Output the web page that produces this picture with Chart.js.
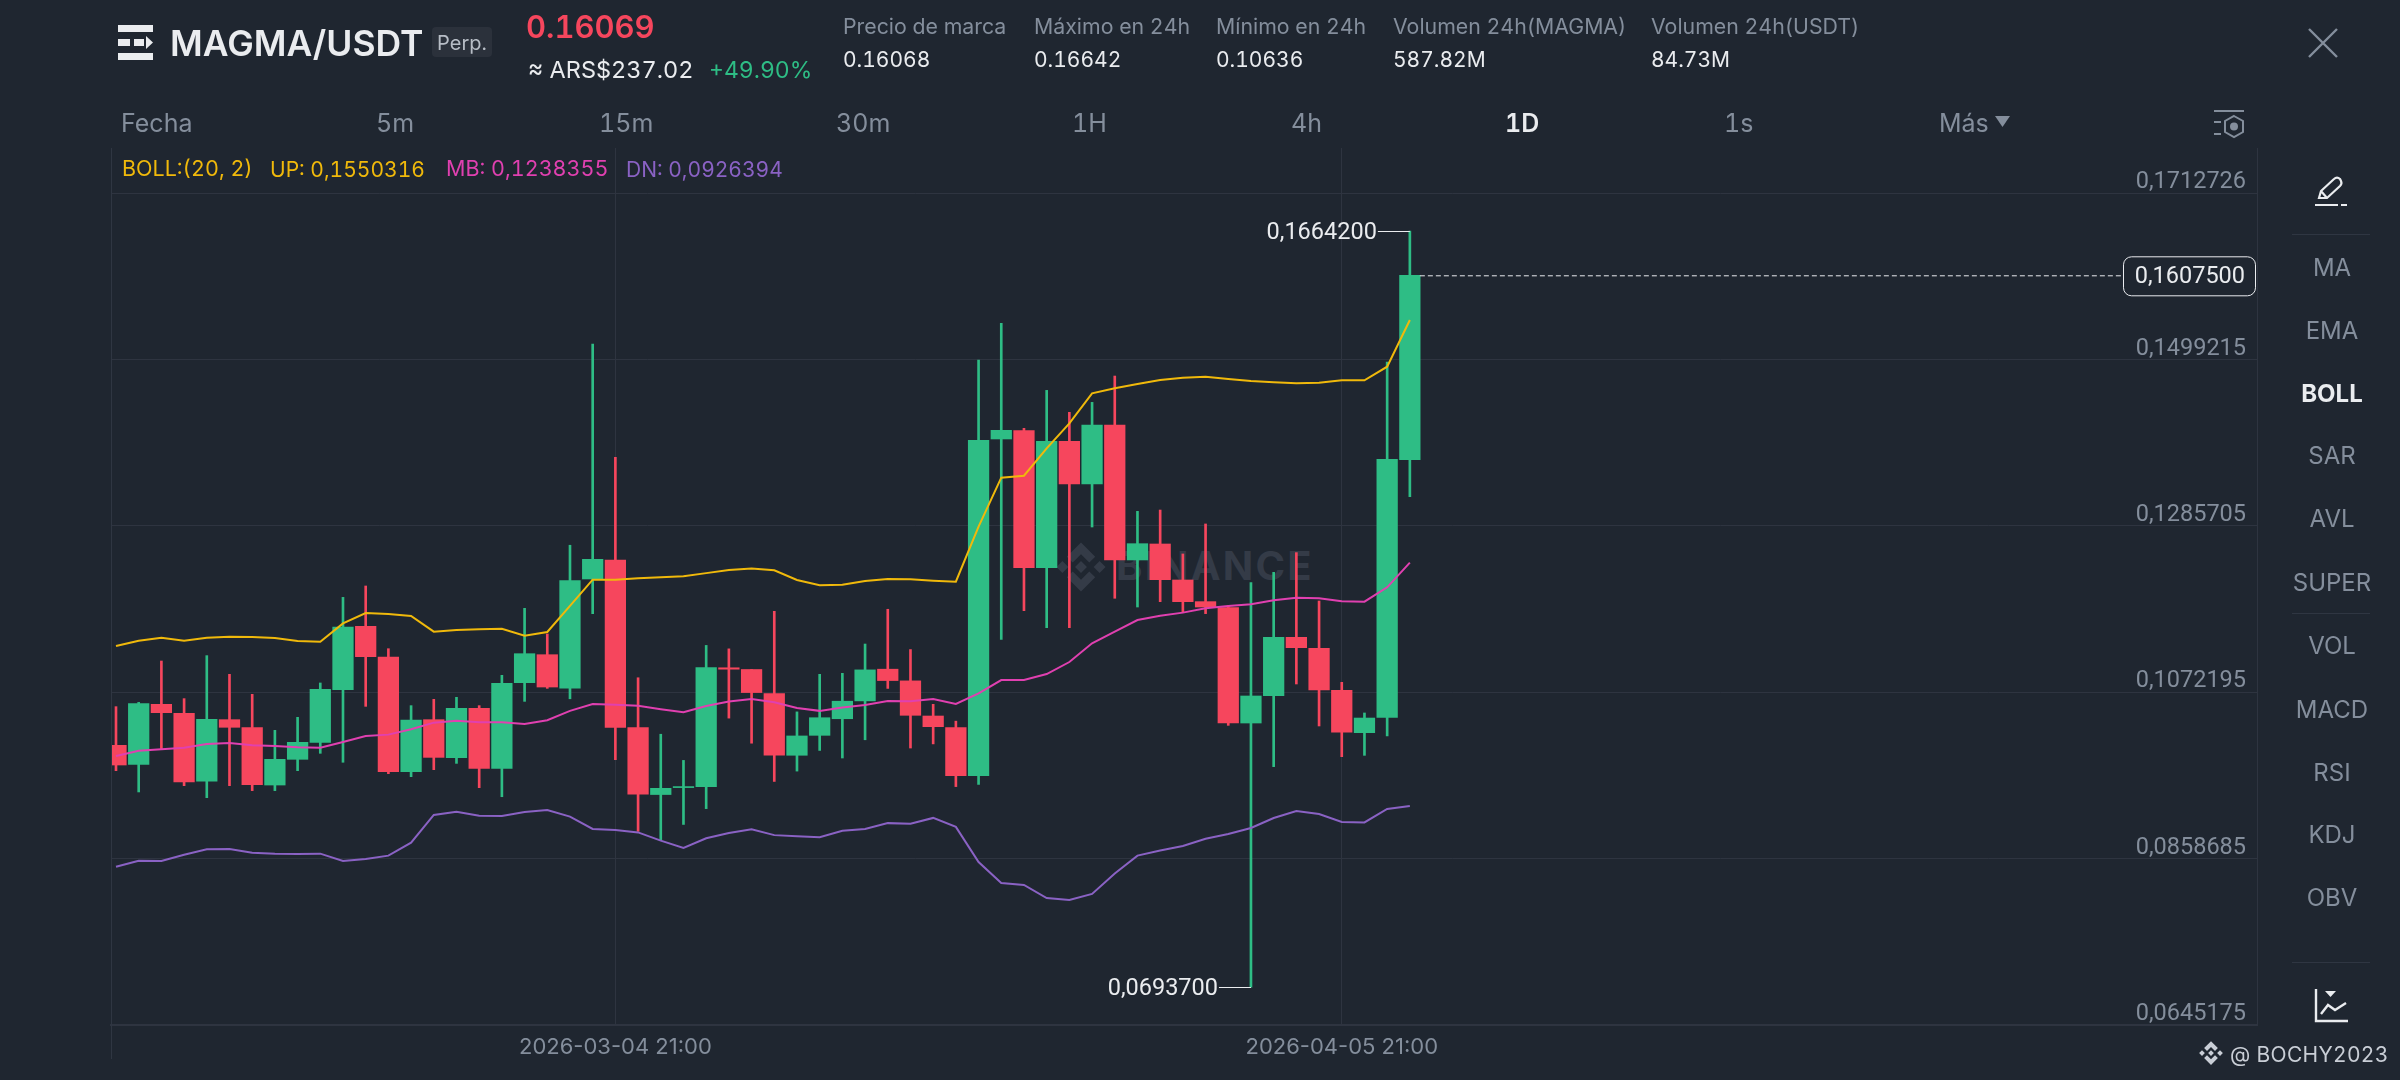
<!DOCTYPE html>
<html><head><meta charset="utf-8">
<script src="https://cdn.jsdelivr.net/npm/chart.js@4"></script>
<style>
html,body{margin:0;padding:0;background:#1f2630;width:2400px;height:1080px;overflow:hidden;font-family:Inter,Roboto,sans-serif}
#stage{position:relative;width:2400px;height:1080px}
.t{position:absolute;white-space:nowrap;line-height:1;transform:translateY(-50%);font-variant-numeric:tabular-nums}
.c{transform:translate(-50%,-50%)}
.g{color:#848e9c}.w{color:#eaecef}
.sep{position:absolute;left:2292px;width:78px;height:1px;background:#2f3642}
canvas{position:absolute;left:0;top:0}
svg{position:absolute}
</style></head><body><div id="stage">
<svg style="left:1050px;top:536px" width="62" height="62" viewBox="0 0 24 24" fill="#343b47"><path d="M12 2.5 L17.5 8 L15.2 10.3 L12 7.1 L8.8 10.3 L6.5 8Z M12 21.5 L6.5 16 L8.8 13.7 L12 16.9 L15.2 13.7 L17.5 16Z M12 9.7 L14.3 12 L12 14.3 L9.7 12Z M2.5 12 L4.8 9.7 L7.1 12 L4.8 14.3Z M21.5 12 L19.2 9.7 L16.9 12 L19.2 14.3Z"/></svg>
<div class="t" style="left:1116px;top:566px;font-size:40px;font-weight:700;color:#343b47;letter-spacing:2.2px">BINANCE</div>
<canvas id="c" width="2400" height="1080"></canvas>

<svg style="left:118px;top:25px" width="36" height="36" viewBox="0 0 36 36" fill="#eaecef"><rect x="0" y="0" width="35" height="7"/><rect x="0" y="28" width="35" height="7"/><rect x="0" y="14" width="12" height="7"/><rect x="16" y="14" width="10" height="7"/><path d="M28 11 L35 17.5 L28 24Z"/></svg>
<div class="t w" style="left:170px;top:44px;font-size:35.5px;font-weight:600;color:#eaecef">MAGMA/USDT</div>
<div style="position:absolute;left:432px;top:27px;width:60px;height:30px;background:#2b313b;border-radius:4px"></div>
<div class="t c" style="left:462px;top:43px;font-size:20px;color:#b7bdc6">Perp.</div>
<div class="t" style="left:526px;top:26px;font-size:31px;font-weight:600;color:#f6465d">0.16069</div>
<div class="t w" style="left:528px;top:70px;font-size:23.5px">≈ ARS$237.02</div>
<div class="t" style="left:709px;top:70px;font-size:23px;color:#2ebd85">+49.90%</div>

<div class="t g" style="left:843px;top:27px;font-size:21.3px">Precio de marca</div><div class="t w" style="left:843px;top:59px;font-size:21px">0.16068</div>
<div class="t g" style="left:1034px;top:27px;font-size:21.3px">Máximo en 24h</div><div class="t w" style="left:1034px;top:59px;font-size:21px">0.16642</div>
<div class="t g" style="left:1216px;top:27px;font-size:21.3px">Mínimo en 24h</div><div class="t w" style="left:1216px;top:59px;font-size:21px">0.10636</div>
<div class="t g" style="left:1393px;top:27px;font-size:21.3px">Volumen 24h(MAGMA)</div><div class="t w" style="left:1393px;top:59px;font-size:21px">587.82M</div>
<div class="t g" style="left:1651px;top:27px;font-size:21.3px">Volumen 24h(USDT)</div><div class="t w" style="left:1651px;top:59px;font-size:21px">84.73M</div>
<svg style="left:2308px;top:28px" width="30" height="30" fill="none" stroke="#848e9c" stroke-width="2.4"><path d="M1 1 L29 29 M29 1 L1 29"/></svg>

<div class="t g" style="left:121px;top:123px;font-size:25px">Fecha</div>
<div class="t g" style="left:376px;top:123px;font-size:25px">5m</div>
<div class="t g" style="left:599px;top:123px;font-size:25px">15m</div>
<div class="t g" style="left:836px;top:123px;font-size:25px">30m</div>
<div class="t g" style="left:1072px;top:123px;font-size:25px">1H</div>
<div class="t g" style="left:1291px;top:123px;font-size:25px">4h</div>
<div class="t" style="left:1505px;top:123px;font-size:25px;font-weight:600;color:#eaecef">1D</div>
<div class="t g" style="left:1724px;top:123px;font-size:25px">1s</div>
<div class="t g" style="left:1939px;top:123px;font-size:25px">Más</div>
<svg style="left:1995px;top:116px" width="16" height="12" fill="#848e9c"><path d="M0 0 H15 L7.5 11Z"/></svg>
<svg style="left:2213px;top:109px" width="32" height="30" fill="none" stroke="#848e9c" stroke-width="2"><path d="M1 2 H31 M1 13 H8 M1 25 H8"/><path d="M21 7 L30 12 V23 L21 28 L12 23 V12Z"/><circle cx="21" cy="17.5" r="3" fill="#848e9c"/></svg>

<div class="t" style="left:122px;top:169px;font-size:21.5px;color:#f0b90b">BOLL:(20, 2)</div>
<div class="t" style="left:270px;top:169px;font-size:21px;color:#f0b90b">UP: 0,1550316</div>
<div class="t" style="left:446px;top:169px;font-size:21.5px;color:#e040b0">MB: 0,1238355</div>
<div class="t" style="left:626px;top:169px;font-size:21px;color:#8a62c4">DN: 0,0926394</div>

<svg style="left:2314px;top:175px" width="34" height="34" fill="none" stroke="#eaecef" stroke-width="2.2"><path d="M5 23 L7 16 L20 4 C22 2 24 2 26 4 L27 6 C28 8 28 9 26 11 L13 23Z M7 16 L13 23"/><path d="M1 30 H24 M27 30 H33"/></svg>
<div class="sep" style="top:234px"></div>
<div class="t c g" style="left:2332px;top:268px;font-size:24px">MA</div>
<div class="t c g" style="left:2332px;top:331px;font-size:24px">EMA</div>
<div class="t c" style="left:2332px;top:394px;font-size:24px;font-weight:700;color:#eaecef">BOLL</div>
<div class="t c g" style="left:2332px;top:456px;font-size:24px">SAR</div>
<div class="t c g" style="left:2332px;top:519px;font-size:24px">AVL</div>
<div class="t c g" style="left:2332px;top:583px;font-size:24px">SUPER</div>
<div class="sep" style="top:613px"></div>
<div class="t c g" style="left:2332px;top:646px;font-size:24px">VOL</div>
<div class="t c g" style="left:2332px;top:710px;font-size:24px">MACD</div>
<div class="t c g" style="left:2332px;top:773px;font-size:24px">RSI</div>
<div class="t c g" style="left:2332px;top:835px;font-size:24px">KDJ</div>
<div class="t c g" style="left:2332px;top:898px;font-size:24px">OBV</div>
<div class="sep" style="top:962px"></div>
<svg style="left:2314px;top:988px" width="36" height="36" fill="none" stroke="#eaecef" stroke-width="2.4"><path d="M2 1 V33 H34"/><path d="M7 26 L14 17 L21 22 L32 15" /><path d="M11 3 H22 L16.5 9Z" fill="#eaecef" stroke="none"/></svg>
<svg style="left:2196px;top:1038px" width="30" height="30" viewBox="0 0 24 24" fill="#c9ced6"><path d="M12 2.5 L17.5 8 L15.2 10.3 L12 7.1 L8.8 10.3 L6.5 8Z M12 21.5 L6.5 16 L8.8 13.7 L12 16.9 L15.2 13.7 L17.5 16Z M12 9.7 L14.3 12 L12 14.3 L9.7 12Z M2.5 12 L4.8 9.7 L7.1 12 L4.8 14.3Z M21.5 12 L19.2 9.7 L16.9 12 L19.2 14.3Z"/></svg>
<div class="t" style="left:2230px;top:1054px;font-size:21px;color:#c9ced6;letter-spacing:.3px">@ BOCHY2023</div>
<div style="position:absolute;left:111px;top:148px;width:1px;height:911px;background:#2f3642"></div>
</div>
<script>
const highs=[.10538,.10593,.11124,.10641,.11193,.10953,.10696,.10234,.10401,.10842,.11941,.12087,.11282,.10551,.10632,.10658,.10551,.10940,.11800,.11471,.12610,.15192,.13737,.10909,.10184,.09848,.11324,.11280,.11015,.11762,.10471,.10953,.10966,.11342,.11788,.11271,.10568,.10352,.14988,.15458,.14111,.14598,.14316,.14444,.14782,.13045,.13062,.12498,.12883,.11834,.12130,.12262,.12515,.11894,.10850,.10457,.14962,.16642];
const lows=[.09716,.09443,.09990,.09524,.09370,.09524,.09460,.09460,.09716,.09939,.09824,.10542,.09678,.09639,.09729,.09810,.09498,.09382,.10606,.10773,.10639,.11731,.09857,.08937,.08826,.09026,.09229,.10391,.10069,.09578,.09711,.09976,.09879,.10113,.10772,.10007,.10060,.09512,.09541,.11402,.11770,.11552,.11552,.12844,.11929,.11817,.11886,.11749,.11732,.10298,.06937,.09768,.10829,.10290,.09896,.09913,.10162,.13233];
const opens=[.10042,.09798,.10568,.10453,.09580,.10371,.10268,.09532,.09862,.10080,.10756,.11569,.11175,.09704,.10371,.09883,.10517,.09746,.10846,.11205,.10776,.12177,.12420,.10268,.09410,.09499,.09512,.11037,.11015,.10705,.09914,.10170,.10383,.10612,.11019,.10869,.10418,.10268,.09652,.13974,.14081,.12322,.13944,.13396,.14153,.12421,.12626,.12164,.11886,.11809,.10328,.10679,.11428,.11287,.10748,.10204,.10401,.13708];
const closes=[.09789,.10577,.10461,.09571,.10375,.10273,.09537,.09862,.10080,.10760,.11560,.11180,.09704,.10367,.09887,.10517,.09746,.10837,.11218,.10790,.12155,.12429,.10272,.09415,.09490,.09512,.11041,.11019,.10719,.09914,.10162,.10396,.10608,.11010,.10873,.10427,.10281,.09653,.13957,.14085,.12322,.13944,.13396,.14153,.12421,.12630,.12168,.11886,.11817,.10328,.10675,.11428,.11295,.10752,.10209,.10392,.13713,.16075];
const bollUp=[.11317,.11385,.11424,.11385,.11424,.11436,.11432,.11419,.11381,.11372,.11607,.11740,.11727,.11702,.11501,.11522,.11531,.11539,.11449,.11496,.11832,.12168,.12168,.12186,.12199,.12213,.12252,.12292,.12310,.12288,.12164,.12098,.12102,.12151,.12177,.12173,.12155,.12142,.12848,.13477,.13503,.13854,.14175,.14560,.14624,.14680,.14731,.14761,.14774,.14744,.14718,.14701,.14688,.14697,.14727,.14727,.14902,.15501];
const bollMb=[.09905,.09973,.09990,.10012,.10059,.10072,.10042,.10033,.10016,.10012,.10085,.10161,.10179,.10247,.10333,.10358,.10337,.10337,.10316,.10363,.10484,.10573,.10564,.10551,.10506,.10467,.10546,.10604,.10635,.10595,.10520,.10484,.10528,.10559,.10612,.10608,.10635,.10573,.10709,.10880,.10880,.10957,.11111,.11351,.11501,.11650,.11706,.11745,.11800,.11830,.11852,.11903,.11937,.11929,.11890,.11886,.12070,.12386];
const bollDn=[.08484,.08561,.08557,.08638,.08707,.08711,.08664,.08651,.08647,.08651,.08557,.08583,.08626,.08792,.09148,.09190,.09139,.09135,.09186,.09212,.09127,.08968,.08955,.08924,.08818,.08725,.08849,.08915,.08964,.08889,.08875,.08862,.08946,.08968,.09043,.09035,.09110,.08995,.08544,.08274,.08249,.08082,.08056,.08134,.08397,.08626,.08692,.08749,.08842,.08903,.08980,.09109,.09199,.09160,.09057,.09052,.09225,.09263];
const yTicks=[.1712726,.1499215,.1285705,.1072195,.0858685,.0645175];
const xTickIndex=[22,54];
const xTickLabels=['2026-03-04 21:00','2026-04-05 21:00'];
const lastPrice=.16075, highPrice=.16642, highIndex=57, lowPrice=.06937, lowIndex=50;

const GREEN='#2ebd85',RED='#f6465d',GRID='#2e3440';
const fmt=v=>v.toFixed(7).replace('.',',');
const idx=opens.map((_,i)=>i);
const colors=idx.map(i=>closes[i]>=opens[i]?GREEN:RED);
const line=(arr,color)=>({type:'line',data:idx.map(i=>({x:i,y:arr[i]})),borderColor:color,borderWidth:2,pointRadius:0,tension:0,order:1});

const marks={id:'marks',afterDatasetsDraw(ch){
  const {ctx,scales:{x,y}}=ch;ctx.save();
  ctx.font='23.5px Roboto, sans-serif';ctx.textBaseline='middle';
  const tagL=2123,tagR=2256,py=y.getPixelForValue(lastPrice);
  ctx.strokeStyle='#eaecef';ctx.lineWidth=1;
  ctx.setLineDash([5,3]);ctx.beginPath();ctx.moveTo(x.getPixelForValue(highIndex)+10,py+.5);ctx.lineTo(tagL,py+.5);ctx.stroke();ctx.setLineDash([]);
  ctx.fillStyle='#1f2630';ctx.beginPath();ctx.roundRect(tagL+.5,py-18.5,tagR-tagL-1,39,8);ctx.fill();ctx.stroke();
  ctx.fillStyle='#eaecef';ctx.textAlign='right';ctx.fillText(fmt(lastPrice),2245,py+2);
  [[highIndex,highPrice],[lowIndex,lowPrice]].forEach(([i,v])=>{
    const px=x.getPixelForValue(i),vy=Math.round(y.getPixelForValue(v))+.5;
    ctx.beginPath();ctx.moveTo(px,vy);ctx.lineTo(px-32,vy);ctx.stroke();
    ctx.fillText(fmt(v),px-33,vy+2);
  });
  ctx.restore();
}};

new Chart(document.getElementById('c'),{
  data:{datasets:[
    {type:'bar',data:idx.map(i=>({x:i,y:[lows[i],highs[i]]})),backgroundColor:colors,barThickness:2,grouped:false,order:3},
    {type:'bar',data:idx.map(i=>({x:i,y:[opens[i],closes[i]]})),backgroundColor:colors,barThickness:20.6,grouped:false,order:2},
    line(bollUp,'#f0b90b'),line(bollMb,'#e040b0'),line(bollDn,'#8a62c4')
  ]},
  options:{
    responsive:false,animation:false,devicePixelRatio:1,
    layout:{padding:{left:111,top:148,right:143,bottom:0}},
    plugins:{legend:{display:false},tooltip:{enabled:false}},
    scales:{
      x:{type:'linear',offset:false,min:-0.22,max:94.32,
        afterBuildTicks(s){s.ticks=xTickIndex.map(v=>({value:v}))},
        afterFit(s){s.height=55},
        grid:{offset:false,color:GRID,lineWidth:1,drawTicks:false},
        border:{color:GRID,width:2},
        ticks:{autoSkip:false,maxRotation:0,padding:9,color:'#848e9c',font:{size:22,family:'Inter, Roboto, sans-serif'},
          callback:v=>xTickLabels[xTickIndex.indexOf(v)]}},
      y:{type:'linear',position:'right',min:.0645175,max:.17709,
        afterBuildTicks(s){s.ticks=yTicks.map(v=>({value:v}))},
        grid:{color:GRID,lineWidth:1,drawTicks:false},
        border:{color:GRID,width:1},
        ticks:{autoSkip:false,mirror:true,padding:-11,color:'#848e9c',font:{size:23.5,lineHeight:'22px',family:'Roboto, sans-serif'},
          callback:v=>[fmt(v),'']}}
    }
  },
  plugins:[marks]
});
</script></body></html>
